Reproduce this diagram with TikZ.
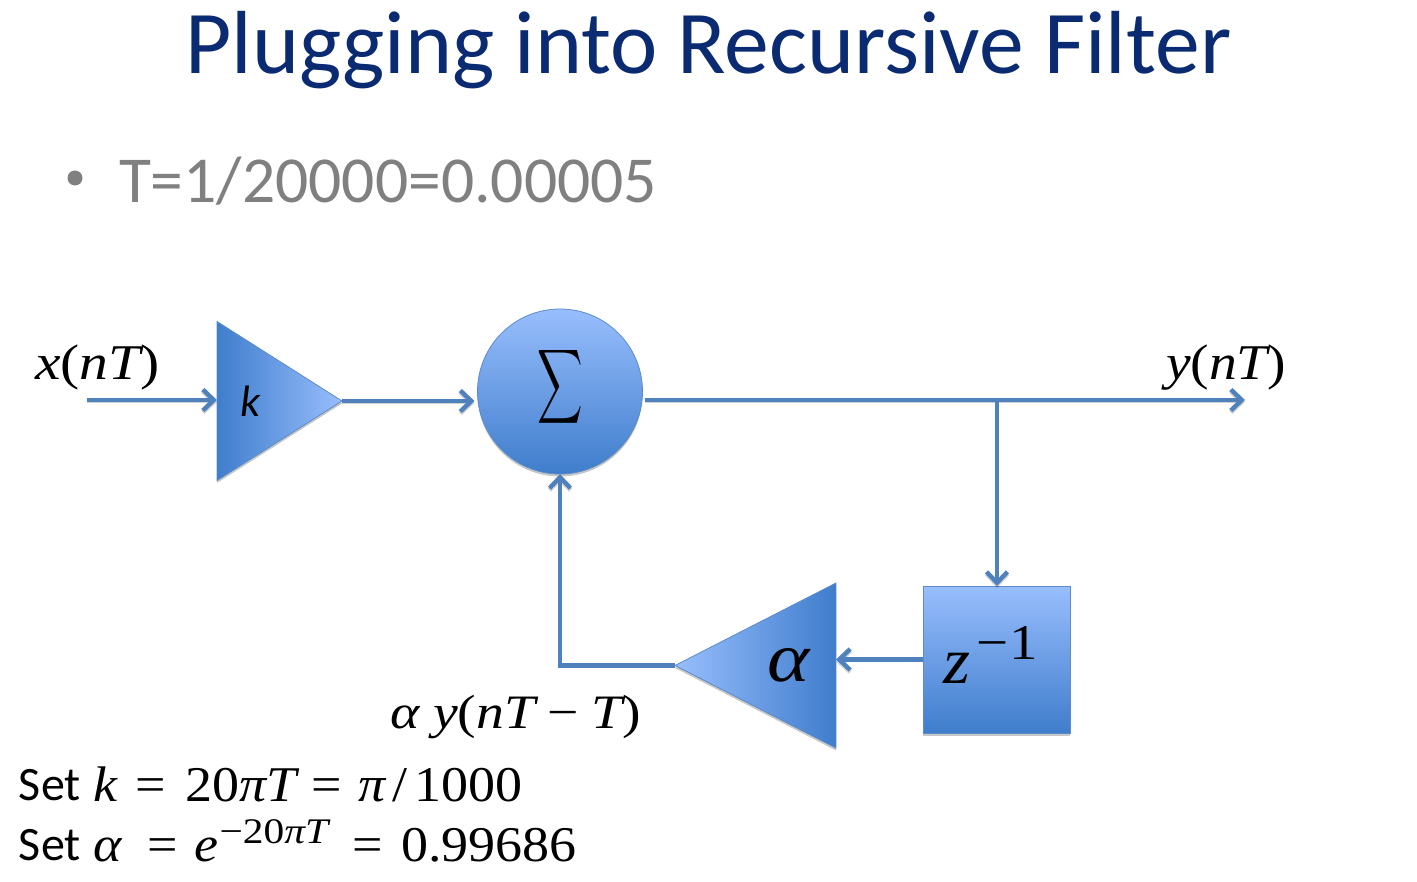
\documentclass[tikz,border=0pt]{standalone}
\usepackage{fontspec}
\setmainfont{Carlito}
\newfontfamily\mserif{Liberation Serif}
\usetikzlibrary{shapes.geometric,arrows.meta,shadows,calc}
\definecolor{fdark}{HTML}{3F7DCC}
\definecolor{flight}{HTML}{98BEFD}
\definecolor{wire}{HTML}{4F81BD}
\definecolor{edge}{HTML}{5B8BC8}
\definecolor{navy}{HTML}{0A2A72}
\definecolor{greytext}{HTML}{808080}
\newcommand{\fs}[1]{\fontsize{#1}{#1}\selectfont}
\newcommand{\mi}[1]{{\mserif\itshape #1}}
\newcommand{\mr}[1]{{\mserif #1}}
\newcommand{\wdn}[2]{\scalebox{#1}[1]{#2}}
\newcommand{\gap}[1]{\hspace{#1pt}}
\tikzset{
  softshadow/.style={drop shadow={shadow xshift=0pt,shadow yshift=-2.5pt,opacity=.22,fill=black}},
  tri/.style={isosceles triangle,isosceles triangle stretches,inner sep=0pt,outer sep=0pt,draw=edge,line width=.8pt,softshadow,anchor=lower side},
  wireline/.style={draw=wire,line width=4.6pt},
  arrowline/.style={wireline,-{Straight Barb[length=11pt,width=21pt,line width=4.4pt]},
    preaction={draw=black,opacity=.18,transform canvas={yshift=-2pt}}},
  txt/.style={inner sep=0pt,outer sep=0pt,anchor=base west,text=black},
}
\begin{document}
\begin{tikzpicture}[x=1pt,y=-1pt]
\useasboundingbox (0,0) rectangle (1417,882);
\node[txt,text=navy,anchor=base] (title) at (708.5,74) {\fs{89.6}Plugging into Recursive Filter};
\node[circle,fill=greytext,minimum size=15pt,inner sep=0pt] (bullet) at (75,178) {};
\node[txt,text=greytext] (tline) at (119,203) {\fs{65.6}T=1/20000=0.00005};

\node[tri,shape border rotate=0,minimum height=125pt,minimum width=159pt,left color=fdark,right color=flight] (k) at (217,401) {};
\node[circle,minimum size=165pt,inner sep=0pt,outer sep=0pt,draw=edge,line width=.8pt,top color=flight,bottom color=fdark,softshadow] (sum) at (560,391.5) {};
\node[tri,shape border rotate=180,minimum height=161pt,minimum width=165pt,left color=flight,right color=fdark] (alpha) at (836,665.5) {};
\node[rectangle,minimum width=147pt,minimum height=147pt,inner sep=0pt,outer sep=0pt,draw=edge,line width=.8pt,top color=flight,bottom color=fdark,softshadow] (z) at (996.5,659.5) {};

\node[txt,anchor=center] (klab) at (250,401) {\fs{44}\itshape k};
\node[txt,anchor=center] (sigma) at (560,387) {\scalebox{3.15}[5.2]{$\displaystyle\sum$}};
\node[txt,anchor=center] (alab) at (789,665) {\wdn{1.15}{\fs{70}\mi{α}}};
\node[txt] (zlab) at (943,683) {\wdn{1.05}{\fs{66}\mi{z}}\gap{7}\raisebox{24pt}{\wdn{1.14}{\fs{50}\mr{−1}}}};

\node[txt] (xlab) at (35,380) {\wdn{1.15}{\fs{50}\mi{x}\mr{(}\mi{nT}\mr{)}}};
\node[txt] (ylab) at (1166,380) {\wdn{1.11}{\fs{50}\mi{y}\mr{(}\mi{nT}\mr{)}}};
\node[txt] (fb) at (390,728) {\wdn{1.16}{\fs{48}\mi{α y}\mr{(}\mi{nT} \mr{−} \mi{T}\mr{)}}};
\node[txt] (setk) at (19,800) {\fs{48}Set\gap{13}\wdn{1.08}{\fs{50}\raisebox{-1pt}{\mi{k}}}\gap{18}\wdn{1.08}{\fs{50}\raisebox{-1pt}{\mr{=}}}\gap{19}\wdn{1.08}{\fs{50}\raisebox{-1pt}{\mr{20}\mi{πT}}}\gap{15}\wdn{1.08}{\fs{50}\raisebox{-1pt}{\mr{=}}}\gap{17}\wdn{1.08}{\fs{50}\raisebox{-1pt}{\mi{π}}}\gap{7}\wdn{1.08}{\fs{50}\raisebox{-1pt}{\mr{/}}}\gap{7}\wdn{1.08}{\fs{50}\raisebox{-1pt}{\mr{1000}}}};
\node[txt] (seta) at (19,860) {\fs{48}Set\gap{13}\wdn{1.08}{\fs{50}\raisebox{-1pt}{\mi{α}}}\gap{25}\wdn{1.08}{\fs{50}\raisebox{-1pt}{\mr{=}}}\gap{17}\wdn{1.08}{\fs{50}\raisebox{-1pt}{\mi{e}}}\gap{1}\raisebox{17pt}{\wdn{1.15}{\fs{36}\mr{−20}\mi{πT}}}\gap{24}\wdn{1.08}{\fs{50}\raisebox{-1pt}{\mr{=}}}\gap{19}\wdn{1.08}{\fs{50}\raisebox{-1pt}{\mr{0.99686}}}};

\coordinate (xin) at (87,400);
\coordinate (yout) at (1245,400);
\coordinate (branch) at (997,400);
\draw[arrowline] (xin) -- (k.lower side |- xin);
\draw[arrowline,shorten >=3pt] (k.apex) -- (k.apex -| sum.west);
\draw[arrowline] (sum.east |- yout) ++(2,0) -- (yout);
\draw[arrowline] (branch) -- (branch |- z.north);
\draw[arrowline] (z.west) -- (z.west -| alpha.lower side);
\draw[arrowline,line join=miter] (alpha.apex) -| (sum.south);
\end{tikzpicture}
\end{document}
